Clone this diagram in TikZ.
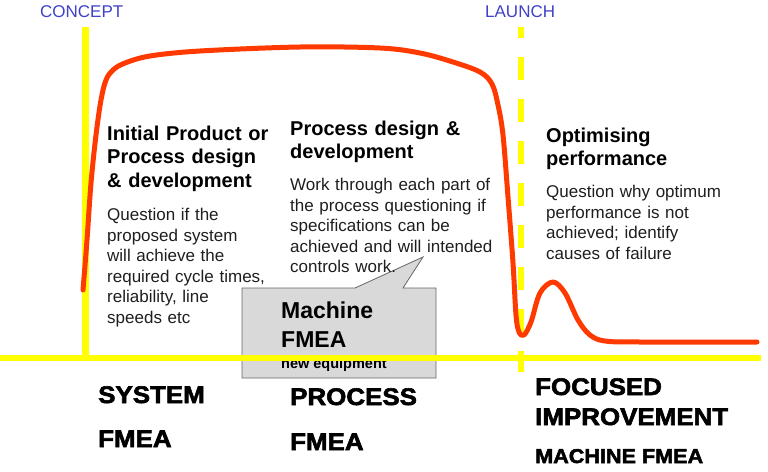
\documentclass[tikz,border=0pt]{standalone}
\usepackage{fontspec}
\setmainfont{Liberation Sans}
\newfontfamily\heavyfont{Liberation Sans}[BoldFeatures={FakeBold=2.5,FakeStretch=1.08}]
\usetikzlibrary{positioning}
\definecolor{curvered}{RGB}{255,58,0}
\definecolor{markyellow}{RGB}{255,255,0}
\definecolor{markblue}{RGB}{64,64,200}
\definecolor{boxgray}{RGB}{217,217,217}
\definecolor{txtdark}{RGB}{30,30,30}
\tikzset{
  headtxt/.style={anchor=base west,inner sep=0,text width=8cm,align=left,font=\fontsize{20}{23.5}\selectfont\bfseries},
  bodytxt/.style={anchor=base west,inner sep=0,text width=8cm,align=left,text=txtdark,font=\fontsize{17}{20.6}\selectfont},
  phasetxt/.style={anchor=base west,inner sep=0,font=\heavyfont\bfseries\fontsize{24}{28}\selectfont},
  milestone/.style={anchor=base west,inner sep=0,text=markblue,font=\fontsize{17}{20}\selectfont},
  boxtxt/.style={anchor=base west,inner sep=0,font=\bfseries\fontsize{23}{28}\selectfont},
  calloutbox/.style={fill=boxgray,draw=gray!80!black,line width=0.8pt},
  yline/.style={markyellow,line width=6pt},
  curve/.style={curvered,line width=5pt,line cap=round,line join=round}
}

\begin{document}
\begin{tikzpicture}[x=1pt,y=-1pt]
  \useasboundingbox (0,0) rectangle (768,471);

  % milestones
  \node[milestone] (concept) at (40,17) {CONCEPT};
  \node[milestone] (launch) at (485,17) {LAUNCH};

  % callout for machine fmea
  \draw[calloutbox] (242,288) -- (355,288) -- (423,257) -- (403,288) -- (436,288)
    -- (436,378) -- (242,378) -- cycle;
  \node[boxtxt] (mach) at (281,318) {Machine};
  \node[boxtxt, below=29pt of mach.base west, anchor=base west] (machfm) {FMEA};
  \node[boxtxt, font=\bfseries\fontsize{14.5}{17}\selectfont, below=21pt of machfm.base west, anchor=base west] (neweq) {new equipment};

  % axes
  \draw[yline] (0,358) -- (761,358);
  \draw[yline, line width=7pt] (85,27) -- (85,358);
  \draw[yline, dash pattern=on 23pt off 19pt, dash phase=12pt] (521,27) -- (521,372);

  % life curve
  \draw[curve] plot[smooth, tension=0.55] coordinates {
    (83,290) (87,240) (91,183) (96,135) (101,100) (106,80) (113,70) (125,63)
    (150,56) (200,51) (300,47) (380,48) (420,53) (453,62) (480,72) (492,84)
    (498,105) (503,135) (508,197) (513,263) (516,315) (519,332) (524,335)
    (531,322) (540,293) (553,282) (565,293) (578,320) (590,335) (605,341)
    (640,342) (757,342)};

  % stage texts
  \node[headtxt] (initH) at (107,140) {Initial Product or\\Process design\\\& development};
  \node[bodytxt] (initB) at (107,220.5) {Question if the\\proposed system\\will achieve the\\required cycle times,\\reliability, line\\speeds etc};

  \node[headtxt] (procH) at (290,135) {Process design \&\\development};
  \node[bodytxt] (procB) at (290,190.5) {Work through each part of\\the process questioning if\\specifications can be\\achieved and will intended\\controls work.};

  \node[headtxt] (optH) at (546,142) {Optimising\\performance};
  \node[bodytxt] (optB) at (546,197.5) {Question why optimum\\performance is not\\achieved; identify\\causes of failure};

  % fmea types
  \node[phasetxt] (sys) at (98,403) {SYSTEM};
  \node[phasetxt, below=44pt of sys.base west, anchor=base west] (sysfm) {FMEA};
  \node[phasetxt] (proc) at (290,405) {PROCESS};
  \node[phasetxt, below=45pt of proc.base west, anchor=base west] (procfm) {FMEA};
  \node[phasetxt] (foc) at (535,395) {FOCUSED};
  \node[phasetxt, below=30pt of foc.base west, anchor=base west] (impr) {IMPROVEMENT};
  \node[phasetxt, font=\heavyfont\bfseries\fontsize{20}{24}\selectfont, below=38pt of impr.base west, anchor=base west] (machfmea) {MACHINE FMEA};
\end{tikzpicture}
\end{document}
